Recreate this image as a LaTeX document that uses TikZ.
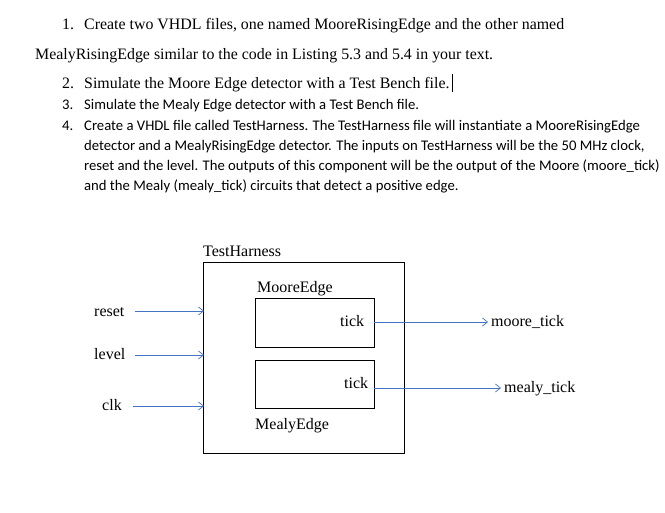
\documentclass[tikz,border=0pt]{standalone}
\usepackage{fontspec}
\setmainfont{Liberation Serif}
\newfontfamily\carlitofam{Carlito}
\usetikzlibrary{arrows.meta}
\begin{document}
\begin{tikzpicture}[x=1pt,y=-1pt,
  ser/.style={anchor=base west,inner sep=0pt,font=\fontsize{15.9}{18}\selectfont},
  san/.style={anchor=base west,inner sep=0pt,font=\carlitofam\fontsize{14.7}{17}\selectfont},
  lab/.style={anchor=base west,inner sep=0pt,font=\fontsize{16}{18}\selectfont},
  box/.style={draw=black,line width=0.8pt},
  conn/.style={draw={rgb,255:red,68;green,114;blue,196},line width=0.7pt,-{Straight Barb[length=5pt,width=8pt]}}]
\useasboundingbox (0,0) rectangle (665,513);
\node[ser] (n1) at (62,30) {1.};
\node[ser] (t1) at (84,30) {Create two VHDL files, one named MooreRisingEdge and the other named};
\node[ser] (t1b) at (35,60) {MealyRisingEdge similar to the code in Listing 5.3 and 5.4 in your text.};
\node[ser] (n2) at (62,89) {2.};
\node[ser] (t2) at (84,89) {Simulate the Moore Edge detector with a Test Bench file.};
\draw (452,74) -- (452,92);
\node[san] (n3) at (62,110) {3.};
\node[san] (t3) at (84,110) {Simulate the Mealy Edge detector with a Test Bench file.};
\node[san] (n4) at (62,131) {4.};
\node[san] (t4) at (84,131) {Create a VHDL file called TestHarness. The TestHarness file will instantiate a MooreRisingEdge};
\node[san] (t4b) at (84,151) {detector and a MealyRisingEdge detector. The inputs on TestHarness will be the 50 MHz clock,};
\node[san] (t4c) at (84,171) {reset and the level. The outputs of this component will be the output of the Moore (moore\_tick)};
\node[san] (t4d) at (84,191) {and the Mealy (mealy\_tick) circuits that detect a positive edge.};

\draw[box] (203,262) rectangle (404,453);
\node[lab] (th) at (203,257) {TestHarness};
\draw[box] (255,298) rectangle (374,347);
\draw[box] (255,360) rectangle (374,408);
\node[lab] (me) at (257,293) {MooreEdge};
\node[lab] (t1k) at (340,327) {tick};
\node[lab] (t2k) at (344,389) {tick};
\node[lab] (ye) at (255,430) {MealyEdge};

\node[lab] (reset) at (94,317) {reset};
\node[lab] (level) at (94,360) {level};
\node[lab] (clk) at (102,411) {clk};
\coordinate (r0) at (135,311); \coordinate (r1) at (204,311);
\coordinate (l0) at (135,355); \coordinate (l1) at (204,355);
\coordinate (c0) at (133,406); \coordinate (c1) at (204,406);
\draw[conn] (r0) -- (r1);
\draw[conn] (l0) -- (l1);
\draw[conn] (c0) -- (c1);
\coordinate (o1a) at (374,322); \coordinate (o1b) at (488,322);
\coordinate (o2a) at (374,388); \coordinate (o2b) at (501,388);
\draw[conn] (o1a) -- (o1b);
\draw[conn] (o2a) -- (o2b);
\node[lab] (mt) at (491,327) {moore\_tick};
\node[lab] (yt) at (504,393) {mealy\_tick};
\end{tikzpicture}
\end{document}
